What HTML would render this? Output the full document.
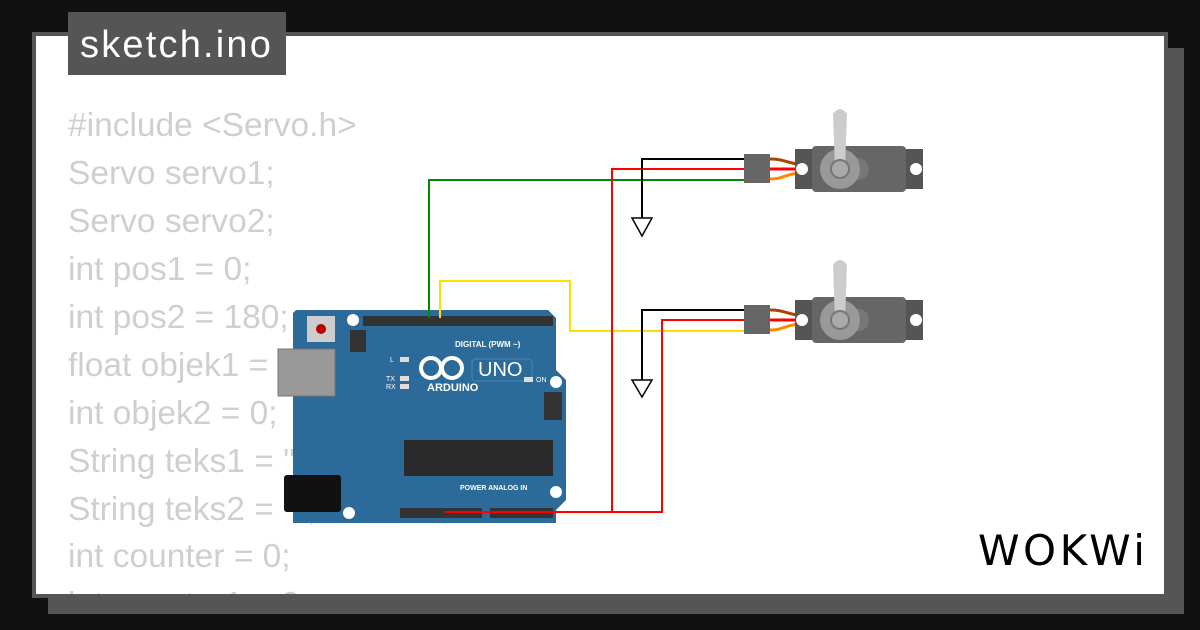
<!DOCTYPE html>
<html><head><meta charset="utf-8"><style>
html,body{margin:0;padding:0;background:#111;}
body{width:1200px;height:630px;position:relative;overflow:hidden;font-family:"Liberation Sans",sans-serif;}
</style></head><body>
<svg width="1200" height="630" viewBox="0 0 1200 630" style="position:absolute;left:0;top:0">
<rect x="48" y="48" width="1136" height="566" fill="#555"/>
<rect x="32" y="32" width="1136" height="566" fill="#555"/>
<rect x="36" y="36" width="1128" height="558" fill="#fff"/>
<clipPath id="c"><rect x="36" y="36" width="1128" height="558"/></clipPath>
<g clip-path="url(#c)" fill="#cfcfcf" font-family="Liberation Sans, sans-serif" font-size="33.5">
<text x="68" y="136">#include &lt;Servo.h&gt;</text>
<text x="68" y="184">Servo servo1;</text>
<text x="68" y="232">Servo servo2;</text>
<text x="68" y="280">int pos1 = 0;</text>
<text x="68" y="328">int pos2 = 180;</text>
<text x="68" y="376">float objek1 = 0;</text>
<text x="68" y="424">int objek2 = 0;</text>
<text x="68" y="472">String teks1 = "";</text>
<text x="68" y="520">String teks2 = "";</text>
<text x="68" y="567">int counter = 0;</text>
<text x="68" y="615">int counter1 = 0;</text>
</g>
<rect x="68" y="12" width="218" height="63" fill="#555"/>
<text x="80" y="57" fill="#fff" font-size="38" letter-spacing="2.2" font-family="Liberation Sans, sans-serif">sketch.ino</text>

<!-- Arduino -->
<path d="M296 310 H548 L556 318 V370 L566 380 V500 L556 510 V523 H293 V313 Z" fill="#2b6a99"/>
<rect x="278" y="349" width="57" height="47" fill="#999"/><rect x="278" y="349" width="57" height="47" fill="none" stroke="#777"/>
<rect x="284" y="475" width="57" height="37" fill="#111" rx="3"/>
<rect x="307" y="316" width="28" height="26" fill="#ccc"/><circle cx="321" cy="329" r="5" fill="#b00"/>
<circle cx="353" cy="320" r="6" fill="#fff"/><circle cx="349" cy="513" r="6" fill="#fff"/>
<circle cx="556" cy="382" r="6" fill="#fff"/><circle cx="556" cy="492" r="6" fill="#fff"/>
<rect x="363" y="316" width="123" height="10" fill="#333"/>
<rect x="470" y="316" width="83" height="10" fill="#333"/>
<rect x="400" y="508" width="82" height="10" fill="#333"/>
<rect x="490" y="508" width="63" height="10" fill="#333"/>
<rect x="350" y="330" width="16" height="22" fill="#333"/>
<rect x="544" y="392" width="18" height="28" fill="#333"/>
<rect x="404" y="440" width="149" height="36" fill="#2a2a2a"/>
<text x="427" y="391" fill="#fff" font-size="11" font-weight="bold">ARDUINO</text>
<text x="478" y="376" fill="#fff" font-size="20">UNO</text>
<rect x="472" y="359" width="60" height="22" rx="4" fill="none" stroke="#4d86b0"/>
<circle cx="431" cy="368" r="10" fill="none" stroke="#fff" stroke-width="4"/>
<circle cx="452" cy="368" r="10" fill="none" stroke="#fff" stroke-width="4"/>
<text x="455" y="347" fill="#fff" font-size="8" font-weight="bold">DIGITAL (PWM ~)</text>
<text x="460" y="490" fill="#fff" font-size="7" font-weight="bold">POWER  ANALOG IN</text>
<text x="390" y="362" fill="#fff" font-size="7">L</text>
<text x="386" y="381" fill="#fff" font-size="7">TX</text>
<text x="386" y="389" fill="#fff" font-size="7">RX</text>
<text x="536" y="382" fill="#fff" font-size="7">ON</text>
<rect x="400" y="357" width="9" height="5" fill="#ddd"/><rect x="400" y="376" width="9" height="5" fill="#ddd"/><rect x="400" y="384" width="9" height="5" fill="#ddd"/><rect x="524" y="377" width="9" height="5" fill="#ddd"/>

<!-- wires -->
<g fill="none" stroke-width="2">
<path d="M429 318 V180 H750" stroke="#080"/>
<path d="M440 318 V281 H570 V331 H750" stroke="#fd0"/>
<path d="M445 512 H612 V169 H750" stroke="#f00"/>
<path d="M612 512 H662 V320 H750" stroke="#f00"/>
<path d="M750 159 H642 V218" stroke="#000"/>
<path d="M750 310 H642 V380" stroke="#000"/>
<path d="M632 218 H652 L642 236 Z" stroke="#000" stroke-width="1.5"/>
<path d="M632 380 H652 L642 397 Z" stroke="#000" stroke-width="1.5"/>
</g>

<!-- servos -->
<g id="s">
<path d="M770 159 C785 159 785 163 808 166" stroke="#a40" stroke-width="3" fill="none"/>
<path d="M770 169 H808" stroke="#f00" stroke-width="3"/>
<path d="M770 179 C785 179 785 173 808 172" stroke="#f80" stroke-width="3" fill="none"/>
<rect x="744" y="154" width="26" height="29" fill="#666"/>
<rect x="795" y="149" width="128" height="40" fill="#555"/>
<circle cx="802" cy="169" r="6" fill="#fff"/><circle cx="916" cy="169" r="6" fill="#fff"/>
<rect x="812" y="146" width="94" height="46" rx="4" fill="#666"/>
<circle cx="858" cy="169" r="11" fill="#777"/>
<circle cx="840" cy="169" r="20" fill="#999"/>
<path d="M833 114 Q840 104 847 114 L845 169 H835 Z" fill="#ccc"/>
<circle cx="840" cy="169" r="9" fill="#aaa" stroke="#777" stroke-width="2"/>
</g>
<use href="#s" transform="translate(0,151)"/>

<text x="978" y="565" fill="#000" font-size="42" font-family="DejaVu Sans, sans-serif" letter-spacing="3.5">WOKWi</text>
</svg>
</body></html>
